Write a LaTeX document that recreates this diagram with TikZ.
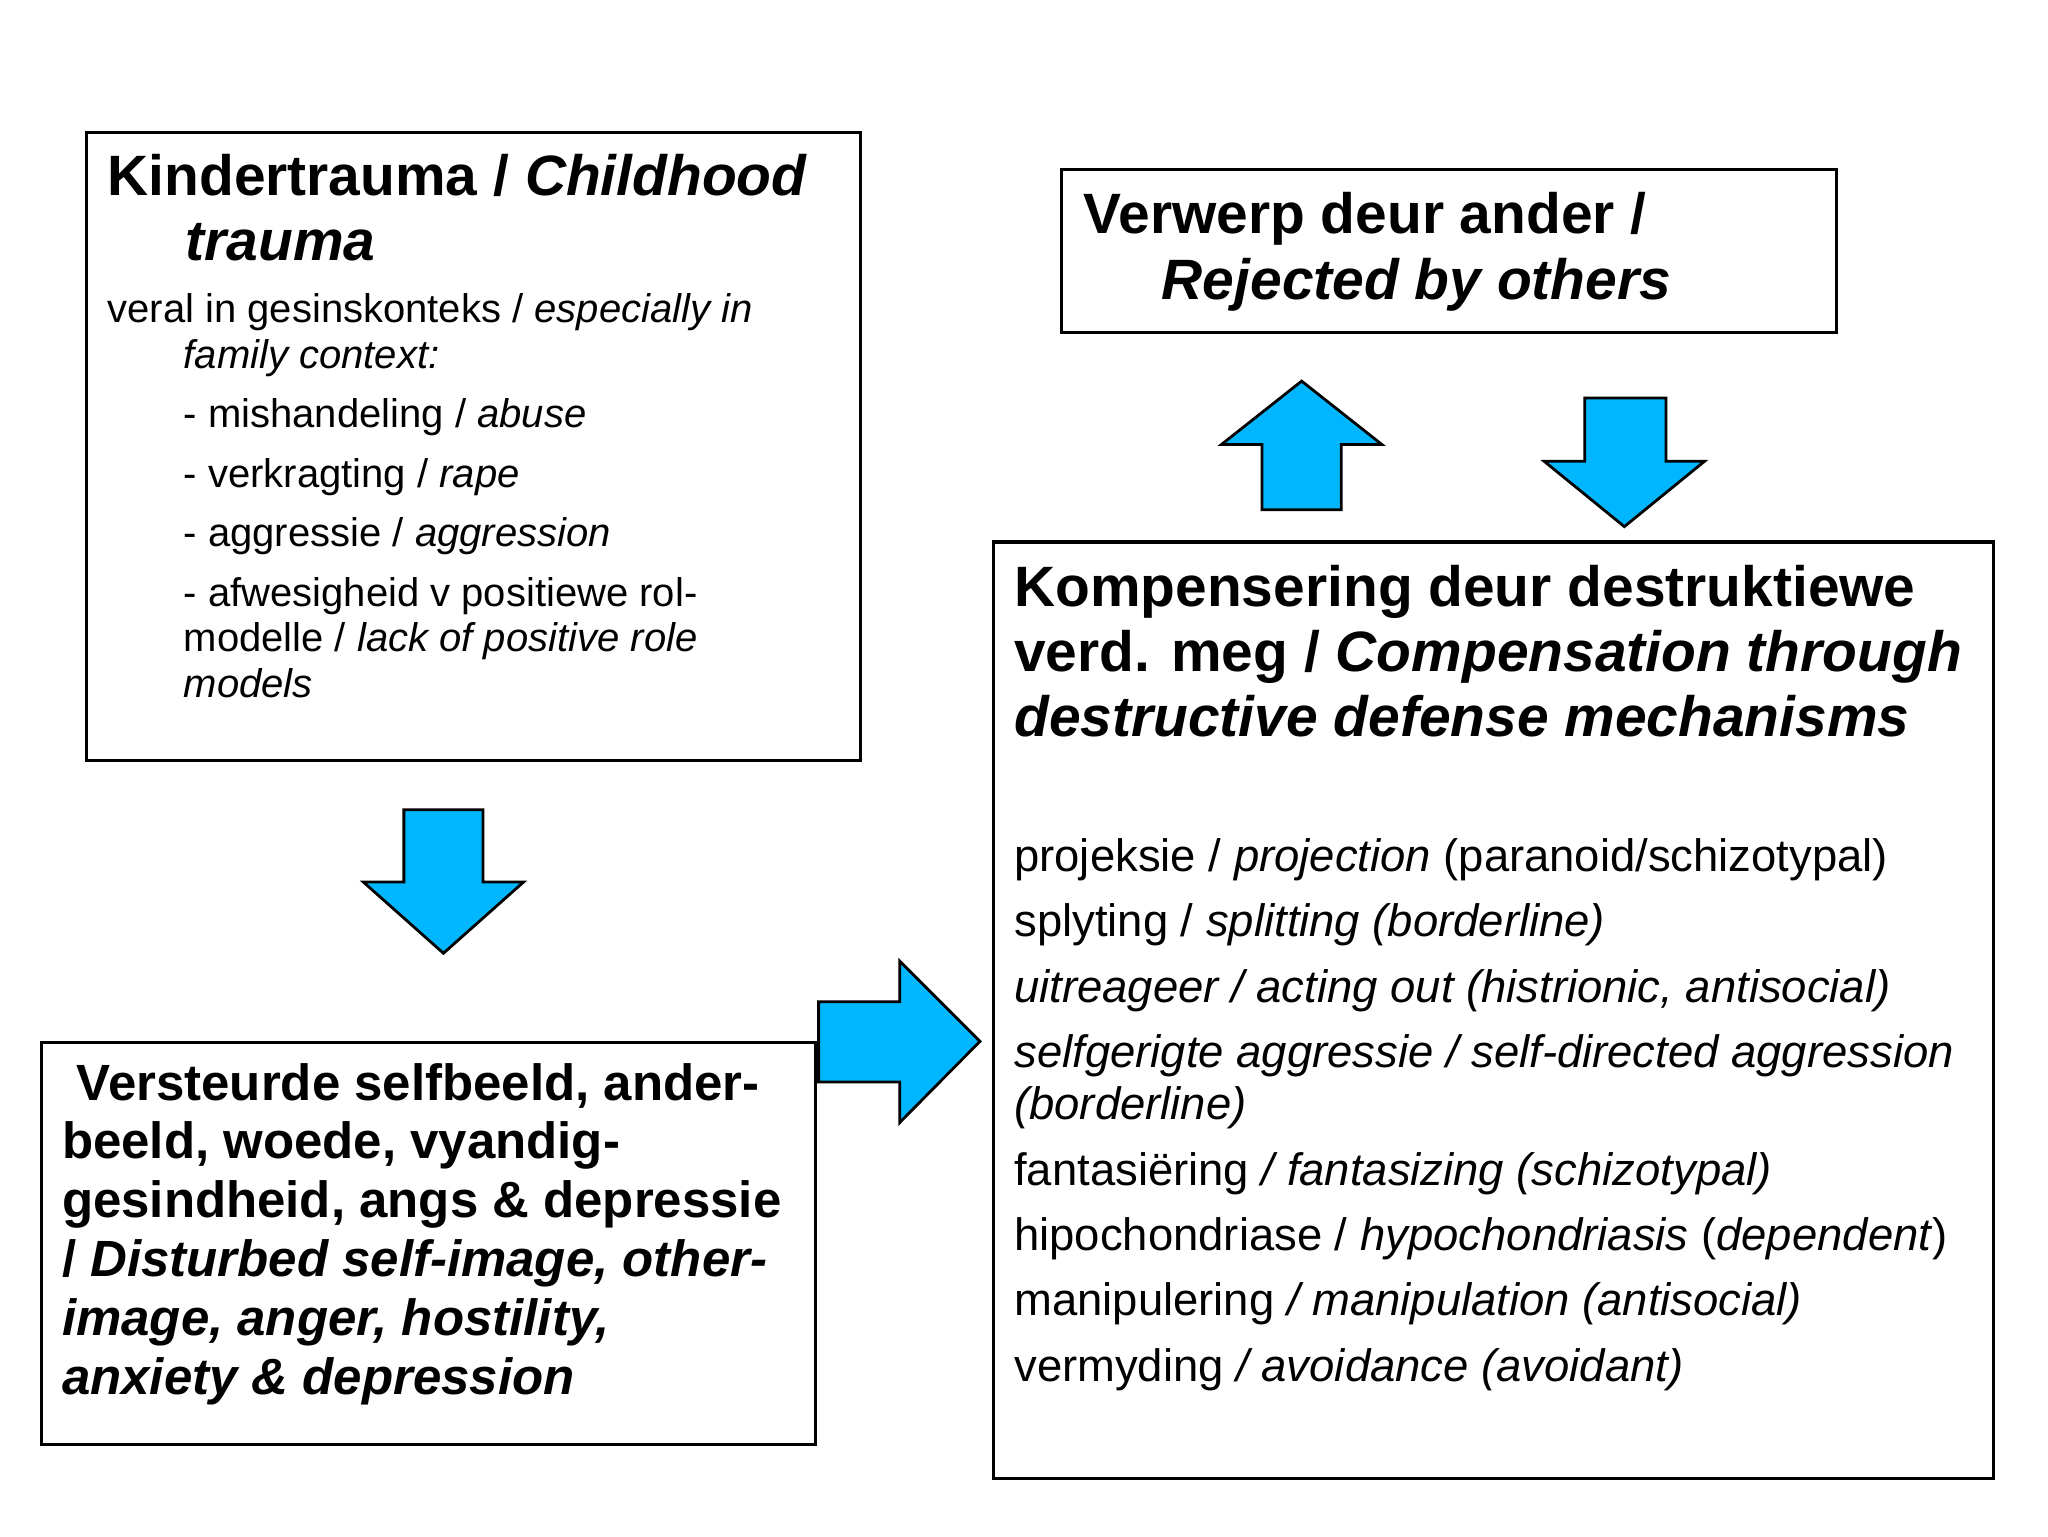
\documentclass[tikz,border=0pt]{standalone}
\usepackage{fontspec}
\setmainfont{Liberation Sans}
\usetikzlibrary{positioning}
\definecolor{arrowblue}{RGB}{0,183,255}

\begin{document}
\begin{tikzpicture}[x=1cm,y=-1cm,
    box/.style={draw=black,line width=0.9pt,inner sep=0pt,anchor=north west},
    blockarrow/.style={fill=arrowblue,draw=black,line width=0.8pt,line join=miter},
    txt/.style={anchor=north west,inner sep=0pt,align=left},
    headfont/.style={font=\fontsize{16.36}{18.78}\selectfont\bfseries},
    smallfont/.style={font=\fontsize{11.5}{13.09}\selectfont},
    listfont/.style={font=\fontsize{13.06}{15.08}\selectfont},
    midfont/.style={font=\fontsize{14.65}{16.9}\selectfont\bfseries}]
    \useasboundingbox (0,0) rectangle (20.69,15.52);

    % Boxes
    \node[box,minimum width=7.82cm,minimum height=6.35cm] (trauma) at (0.86,1.32) {};
    \node[box,minimum width=7.83cm,minimum height=1.64cm] (rejected) at (10.71,1.70) {};
    \node[box,minimum width=10.10cm,minimum height=9.46cm] (compensation) at (10.02,5.46) {};
    \node[box,minimum width=7.82cm,minimum height=4.06cm] (disturbed) at (0.40,10.52) {};

    % Childhood trauma
    \node[txt,headfont] (traumahead) at (1.08,1.55)
        {Kindertrauma / \textit{Childhood}\\\hspace*{0.79cm}\textit{trauma}};
    \node[txt,smallfont] (traumalist) at (1.08,2.96)
        {veral in gesinskonteks / \textit{especially in}\\
         \hspace*{0.77cm}\textit{family context:}\\[4pt]
         \hspace*{0.77cm}- mishandeling / \textit{abuse}\\[4pt]
         \hspace*{0.77cm}- verkragting / \textit{rape}\\[4pt]
         \hspace*{0.77cm}- aggressie / \textit{aggression}\\[4pt]
         \hspace*{0.77cm}- afwesigheid v positiewe rol-\\
         \hspace*{0.77cm}modelle / \textit{lack of positive role}\\
         \hspace*{0.77cm}\textit{models}};

    % Rejected by others
    \node[txt,headfont] (rejectedhead) at (10.94,1.94)
        {Verwerp deur ander /\\\hspace*{0.79cm}\textit{Rejected by others}};

    % Compensation
    \node[txt,headfont] (compensationhead) at (10.24,5.70)
        {Kompensering deur destruktiewe\\
         verd. meg / \textit{Compensation through}\\
         \textit{destructive defense mechanisms}};
    \node[txt,listfont] (compensationlist) at (10.24,8.464)
        {projeksie / \textit{projection} (paranoid/schizotypal)\\[3.7pt]
         splyting / \textit{splitting (borderline)}\\[3.7pt]
         \textit{uitreageer / acting out (histrionic, antisocial)}\\[3.7pt]
         \textit{selfgerigte aggressie / self-directed aggression}\\
         \textit{(borderline)}\\[3.7pt]
         fantasiëring \textit{/ fantasizing (schizotypal)}\\[3.7pt]
         hipochondriase / \textit{hypochondriasis} (\textit{dependent})\\[3.7pt]
         manipulering \textit{/ manipulation (antisocial)}\\[3.7pt]
         vermyding \textit{/ avoidance (avoidant)}};

    % Disturbed self-image
    \node[txt,midfont] (disturbedtext) at (0.62,10.734)
        {\hspace*{0.15cm}Versteurde selfbeeld, ander-\\
         beeld, woede, vyandig-\\
         gesindheid, angs \& depressie\\
         / \textit{Disturbed self-image, other-}\\
         \textit{image, anger, hostility,}\\
         \textit{anxiety \& depression}};

    % Block arrows
    \draw[blockarrow] (12.75,5.15) -- (12.75,4.49) -- (12.34,4.49) -- (13.15,3.85)
        -- (13.96,4.49) -- (13.55,4.49) -- (13.55,5.15) -- cycle;
    \draw[blockarrow] (16.01,4.02) -- (16.83,4.02) -- (16.83,4.66) -- (17.22,4.66)
        -- (16.41,5.32) -- (15.60,4.66) -- (16.01,4.66) -- cycle;
    \draw[blockarrow] (4.08,8.18) -- (4.88,8.18) -- (4.88,8.91) -- (5.29,8.91)
        -- (4.48,9.63) -- (3.67,8.91) -- (4.08,8.91) -- cycle;
    \draw[blockarrow] (8.27,10.12) -- (9.09,10.12) -- (9.09,9.71) -- (9.90,10.52)
        -- (9.09,11.34) -- (9.09,10.93) -- (8.27,10.93) -- cycle;
\end{tikzpicture}
\end{document}
